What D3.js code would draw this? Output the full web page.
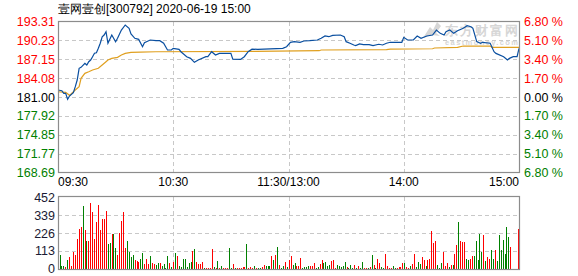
<!DOCTYPE html>
<html>
<head>
<meta charset="utf-8">
<script src="https://cdn.jsdelivr.net/npm/d3@7"></script>
<style>
  body { margin: 0; background: #fff; }
  text { font-family: "Liberation Sans", Arial, sans-serif; }
</style>
</head>
<body>
<div id="chart"></div>
<script>
// ---- data ----
var title = "壹网壹创[300792] 2020-06-19 15:00";
var prevClose = 181.00;
var priceTicks = [193.31, 190.23, 187.15, 184.08, 181.00, 177.92, 174.85, 171.77, 168.69];
var pctTicks = ["6.80", "5.10", "3.40", "1.70", "0.00", "1.70", "3.40", "5.10", "6.80"];
var volTicks = [0, 113, 226, 339, 452];
var timeLabels = ["09:30", "10:30", "11:30/13:00", "14:00", "15:00"];
var timeMinutes = [0, 60, 120, 180, 240];

// price line: trading minute from 09:30, price
var priceMinutes = [0, 2, 3, 4, 5, 6, 8, 9, 10, 11, 12, 14, 15, 16, 17, 18, 19, 20, 21, 22, 23, 24, 25, 26, 28, 30, 31, 33, 35, 37, 38, 40, 42, 44, 45, 48, 51, 53, 55, 57, 59, 60, 63, 64, 67, 69, 71, 73, 77, 78, 80, 82, 84, 90, 91, 95, 97, 99, 101, 104, 117, 119, 121, 123, 126, 128, 131, 135, 137, 139, 141, 143, 147, 149, 150, 152, 154, 155, 157, 159, 162, 164, 167, 169, 171, 173, 176, 179, 180, 182, 185, 187, 189, 192, 195, 197, 199, 201, 202, 204, 206, 208, 211, 213, 215, 216, 218, 220, 221, 225, 227, 228, 232, 234, 235, 237, 239, 240];
var prices = [182.14, 182.03, 181.6, 181.6, 180.62, 181.16, 181.7, 182.68, 183.77, 185.68, 185.84, 186.5, 186.22, 186.76, 187.03, 187.57, 188.13, 188.22, 188.94, 189.76, 190.83, 191.11, 191.65, 189.76, 191.11, 190.02, 190.57, 191.92, 192.74, 192.2, 191.27, 190.57, 190.4, 189.2, 189.85, 190.29, 190.18, 190.18, 189.76, 188.66, 188.66, 188.94, 188.77, 188.38, 187.57, 187.3, 186.65, 187.03, 187.57, 187.57, 188.38, 187.84, 188.11, 188.11, 187.18, 187.13, 187.57, 188.38, 188.8, 188.77, 188.94, 189.2, 189.92, 190.02, 189.92, 190.13, 190.18, 190.29, 190.57, 190.95, 190.83, 191.05, 191.11, 190.83, 190.02, 189.76, 189.48, 189.37, 189.65, 189.53, 189.53, 189.37, 189.6, 189.48, 189.76, 189.92, 189.92, 189.92, 190.73, 190.29, 190.29, 190.95, 190.57, 190.95, 191.11, 191.92, 191.38, 191.11, 191.65, 191.92, 191.38, 191.8, 192.2, 192.62, 192.46, 192.2, 190.02, 189.76, 189.92, 189.76, 188.38, 188.11, 187.57, 187.03, 187.3, 187.57, 187.57, 188.94];

// average price line
var avgMinutes = [0, 4, 6, 9, 11, 12, 14, 16, 18, 21, 23, 25, 26, 28, 31, 33, 35, 38, 43, 51, 103, 136, 137, 171, 173, 195, 196, 208, 211, 225, 226, 240];
var avgPrices = [181.86, 181.76, 181.27, 182.14, 182.68, 184.05, 184.86, 185.12, 185.4, 185.68, 186.22, 186.76, 187.03, 187.3, 187.47, 187.84, 188.11, 188.28, 188.33, 188.38, 188.44, 188.55, 188.66, 188.71, 188.82, 188.87, 188.99, 189.1, 189.31, 189.31, 189.1, 189.1];

// volume per minute (hundreds of lots), r = up minute, g = down minute
var volumes = [86, 18, 18, 12, 55, 74, 18, 102, 86, 190, 251, 264, 399, 245, 172, 178, 417, 362, 190, 294, 405, 245, 313, 313, 368, 153, 160, 221, 221, 129, 86, 227, 301, 362, 129, 178, 104, 74, 86, 55, 49, 43, 61, 98, 31, 61, 31, 80, 37, 31, 25, 37, 37, 18, 31, 6, 80, 37, 12,
  43, 98, 80, 18, 12, 61, 61, 12, 37, 43, 110, 123, 43, 31, 31, 43, 6, 6, 6, 6, 123, 12, 6, 49, 6, 18, 6, 6, 6, 129, 6, 31, 6, 6, 6, 6, 12, 12, 153, 6, 12, 6, 18, 6, 6, 6, 12, 25, 18, 18, 18, 80, 55, 86, 135, 25, 6, 18,
  43, 12, 55, 80, 25, 37, 18, 18, 67, 6, 12, 12, 18, 18, 18, 37, 6, 12, 31, 55, 37, 43, 18, 25, 49, 55, 6, 25, 18, 12, 18, 43, 12, 6, 25, 6, 25, 6, 18, 6, 43, 6, 6, 6, 12, 86, 25, 6, 61, 37, 12, 6, 92, 18, 6, 6, 18, 6, 6, 12,
  12, 37, 37, 12, 6, 18, 31, 92, 12, 43, 31, 74, 55, 18, 55, 61, 239, 160, 178, 25, 6, 37, 104, 18, 37, 12, 25, 25, 92, 147, 294, 178, 166, 166, 61, 55, 61, 80, 80, 172, 55, 221, 104, 215, 49, 74, 61, 117, 61, 117, 49, 215, 117, 184, 92, 264, 203, 135, 0, 0, 0, 251];
var volDir = ("gggrgrrrrr" + "rrgrgrrrrr" + "rrrrrggrgg" + "rrrrrggggr" + "rrggrrrgrr" + "ggrggggrg" +
  "rgrggggggg" + "rgrrrrgrrr" + "rgrgrgrrrg" + "grgrrrrrgr" + "rrgrggrrgg" + "grgrgrgg" +
  "rgrrggrrrg" + "gggrrrggrr" + "ggggrrrggg" + "ggrgggrgrg" + "grrgrgrgrr" + "ggrrrrggrr" +
  "rrgrrgrrgg" + "grrgrrrrrg" + "ggrrrgrgrr" + "grrrggrrgg" + "gggrgrrggr" + "gggggggr" + "ggg" + "r").split("");

// ---- layout ----
var svgWidth = 578, svgHeight = 276;
var left = 58, right = 519;
var priceTop = 21.5, priceBottom = 172.5;
var volTop = 196.5, volBottom = 269.5;
var red = "#ff0000", green = "#008000";

var svg = d3.select("#chart").append("svg")
  .attr("width", svgWidth)
  .attr("height", svgHeight);

var x = d3.scaleLinear().domain([0, 240]).range([left, right]);
var y = d3.scaleLinear().domain([168.69, 193.31]).range([priceBottom, priceTop]);
var yVol = d3.scaleLinear().domain([0, 452]).range([volBottom - 1, volTop + 1]);
var xBar = d3.scaleLinear().domain([0, volumes.length - 1]).range([left + 1.5, right - 1]);

// title
svg.append("text")
  .attr("x", left)
  .attr("y", 13)
  .attr("font-size", 12)
  .attr("font-family", "'Noto Sans CJK SC', 'Liberation Sans', sans-serif")
  .attr("fill", "#000")
  .text(title);

// watermark
var wm = svg.append("g").attr("fill", "#d6d6d6");
wm.append("path")
  .attr("d", "M423,38 L430,27 L433,30 L437,22 L441,26 L436,33 L440,36 L432,35 Z");
wm.append("text")
  .attr("x", 445).attr("y", 35)
  .attr("font-size", 13).attr("font-weight", "bold")
  .attr("font-family", "'Noto Sans CJK SC', sans-serif")
  .attr("textLength", 73)
  .text("东方财富网");
wm.append("text")
  .attr("x", 445).attr("y", 45)
  .attr("font-size", 7.5).attr("font-weight", "bold")
  .attr("textLength", 73)
  .text("eastmoney.com");

// grid lines - price pane
var grid = svg.append("g")
  .attr("stroke", "#c8c8c8")
  .attr("stroke-dasharray", "4,3")
  .attr("shape-rendering", "crispEdges");

grid.selectAll(".hp")
  .data(priceTicks.slice(1, -1))
  .enter().append("line")
  .attr("x1", left).attr("x2", right)
  .attr("y1", d => Math.round(y(d)) + 0.5)
  .attr("y2", d => Math.round(y(d)) + 0.5);

grid.selectAll(".hv")
  .data(volTicks.slice(1, -1))
  .enter().append("line")
  .attr("x1", left).attr("x2", right)
  .attr("y1", d => Math.round(yVol(d)) + 0.5)
  .attr("y2", d => Math.round(yVol(d)) + 0.5);

timeMinutes.slice(1, -1).forEach(function(m) {
  var xx = Math.round(x(m)) + 0.5;
  grid.append("line").attr("x1", xx).attr("x2", xx).attr("y1", priceTop).attr("y2", priceBottom);
  grid.append("line").attr("x1", xx).attr("x2", xx).attr("y1", volTop).attr("y2", volBottom);
});

// volume bars
svg.append("g")
  .attr("shape-rendering", "crispEdges")
  .selectAll("rect")
  .data(volumes)
  .enter().append("rect")
  .attr("x", (d, i) => Math.round(xBar(i)))
  .attr("width", 1)
  .attr("y", d => yVol(d))
  .attr("height", d => volBottom - yVol(d))
  .attr("fill", (d, i) => volDir[i] === "r" ? red : green);

// lines
var avgData = avgMinutes.map((m, i) => [m, avgPrices[i]]);
var priceData = priceMinutes.map((m, i) => [m, prices[i]]);
var line = d3.line().x(d => x(d[0])).y(d => y(d[1]));

svg.append("path")
  .datum(avgData)
  .attr("d", line)
  .attr("fill", "none")
  .attr("stroke", "#e0a020")
  .attr("stroke-width", 1.2);

svg.append("path")
  .datum(priceData)
  .attr("d", line)
  .attr("fill", "none")
  .attr("stroke", "#0a4fa0")
  .attr("stroke-width", 1.2);

// frames
[[priceTop, priceBottom], [volTop, volBottom]].forEach(function(r) {
  svg.append("rect")
    .attr("x", left + 0.5).attr("y", r[0])
    .attr("width", right - left).attr("height", r[1] - r[0])
    .attr("fill", "none")
    .attr("stroke", "#8c8c8c")
    .attr("stroke-width", 1.2);
});

// left price labels
function tickColor(v) {
  return v > prevClose ? red : (v < prevClose ? green : "#000");
}
svg.append("g").selectAll("text")
  .data(priceTicks)
  .enter().append("text")
  .attr("x", 55)
  .attr("y", d => y(d) + 4.5)
  .attr("text-anchor", "end")
  .attr("font-size", 12.5)
  .attr("fill", tickColor)
  .text(d => d.toFixed(2));

// right percent labels
svg.append("g").selectAll("text")
  .data(pctTicks)
  .enter().append("text")
  .attr("x", 524)
  .attr("y", (d, i) => y(priceTicks[i]) + 4.5)
  .attr("font-size", 12.5)
  .attr("fill", (d, i) => tickColor(priceTicks[i]))
  .text(d => d + " %");

// volume labels
svg.append("g").selectAll("text")
  .data(volTicks)
  .enter().append("text")
  .attr("x", 55)
  .attr("y", d => yVol(d) + 4.5)
  .attr("text-anchor", "end")
  .attr("font-size", 12.5)
  .attr("fill", "#1a1a33")
  .text(d => d);

// time labels
svg.append("g").selectAll("text")
  .data(timeLabels)
  .enter().append("text")
  .attr("x", (d, i) => x(timeMinutes[i]))
  .attr("y", 186)
  .attr("text-anchor", (d, i) => i === 0 ? "start" : (i === timeLabels.length - 1 ? "end" : "middle"))
  .attr("font-size", 12)
  .attr("fill", "#000")
  .text(d => d);
</script>
</body>
</html>
